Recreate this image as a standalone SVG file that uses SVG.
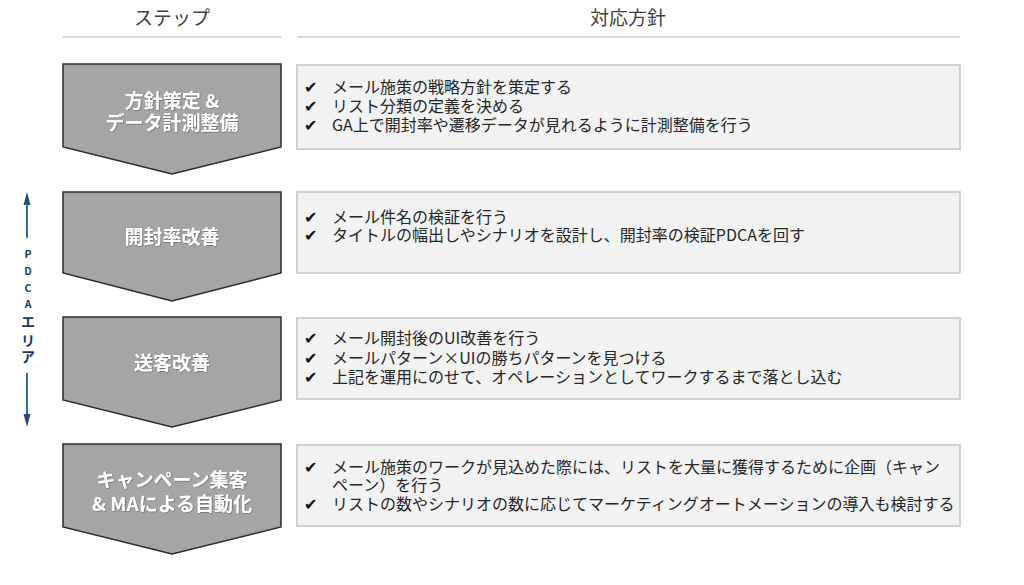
<svg xmlns="http://www.w3.org/2000/svg" width="1024" height="585" viewBox="0 0 1024 585">
  <style>
    .hdr { font-family: "Noto Sans CJK JP", "Noto Sans", sans-serif; font-size: 19px; fill: #404040; text-anchor: middle; }
    .hline { stroke: #d9d9d9; stroke-width: 2; fill: none; }
    .chev { fill: #a5a5a5; stroke: #2b2b2b; stroke-width: 1.5; stroke-linejoin: miter; }
    .ctext { font-family: "Noto Sans CJK JP", "Noto Sans", sans-serif; font-size: 19px; font-weight: bold; fill: #ffffff; text-anchor: middle; }
    .box { fill: #f2f2f2; stroke: #d0d0d0; stroke-width: 2; }
    .btext { font-family: "Noto Sans CJK JP", "Noto Sans", sans-serif; font-size: 16px; fill: #262626; }
    .chk { font-family: "DejaVu Sans", sans-serif; font-size: 16px; fill: #111111; }
    .pdca { font-family: "Noto Sans CJK JP", "Liberation Sans", sans-serif; font-weight: bold; fill: #1f3864; text-anchor: middle; }
    .aline { stroke: #3a6a9a; stroke-width: 2; }
    .ahead { fill: #1f4e79; }
  </style>
  <defs>
    <filter id="sh" x="-10%" y="-10%" width="120%" height="130%">
      <feDropShadow dx="0.6" dy="0.6" stdDeviation="0.5" flood-color="#333333" flood-opacity="0.6"/>
    </filter>
  </defs>
  <rect width="1024" height="585" fill="#ffffff"/>

  <g id="header">
    <text class="hdr" x="172" y="25">ステップ</text>
    <text class="hdr" x="628" y="25">対応方針</text>
    <line class="hline" x1="63" y1="37" x2="281" y2="37"/>
    <line class="hline" x1="297" y1="37" x2="960" y2="37"/>
  </g>

  <g id="pdca-area">
    <polygon class="ahead" points="27,192 30.5,205 23.5,205"/>
    <line class="aline" x1="27" y1="204" x2="27" y2="238"/>
    <text class="pdca" x="28" y="258" font-size="10.5">P</text>
    <text class="pdca" x="28" y="275" font-size="10.5">D</text>
    <text class="pdca" x="28" y="292" font-size="10.5">C</text>
    <text class="pdca" x="28" y="308" font-size="10.5">A</text>
    <text class="pdca" x="28" y="327" font-size="14">エ</text>
    <text class="pdca" x="28" y="346" font-size="14">リ</text>
    <text class="pdca" x="28" y="362" font-size="14">ア</text>
    <line class="aline" x1="27" y1="373" x2="27" y2="415"/>
    <polygon class="ahead" points="27,427 30.5,414 23.5,414"/>
  </g>

  <g id="step1">
    <polygon class="chev" points="63,64 281,64 281,147 172,174 63,147"/>
    <text class="ctext" x="172" y="107.5" filter="url(#sh)">方針策定 &amp;</text>
    <text class="ctext" x="172" y="129.5" filter="url(#sh)">データ計測整備</text>
  </g>
  <g id="policy1">
    <rect class="box" x="297" y="65" width="663" height="84"/>
    <text class="chk" x="304" y="93">✔</text>
    <text class="btext" x="332" y="93">メール施策の戦略方針を策定する</text>
    <text class="chk" x="304" y="112">✔</text>
    <text class="btext" x="332" y="112">リスト分類の定義を決める</text>
    <text class="chk" x="304" y="131">✔</text>
    <text class="btext" x="332" y="131">GA上で開封率や遷移データが見れるように計測整備を行う</text>
  </g>

  <g id="step2">
    <polygon class="chev" points="63,192 281,192 281,273 172,301 63,273"/>
    <text class="ctext" x="172" y="244" filter="url(#sh)">開封率改善</text>
  </g>
  <g id="policy2">
    <rect class="box" x="297" y="192" width="663" height="81"/>
    <text class="chk" x="304" y="223">✔</text>
    <text class="btext" x="332" y="223">メール件名の検証を行う</text>
    <text class="chk" x="304" y="241">✔</text>
    <text class="btext" x="332" y="241">タイトルの幅出しやシナリオを設計し、開封率の検証PDCAを回す</text>
  </g>

  <g id="step3">
    <polygon class="chev" points="63,317 281,317 281,400 172,427 63,400"/>
    <text class="ctext" x="172" y="370" filter="url(#sh)">送客改善</text>
  </g>
  <g id="policy3">
    <rect class="box" x="297" y="318" width="663" height="81"/>
    <text class="chk" x="304" y="344">✔</text>
    <text class="btext" x="332" y="344">メール開封後のUI改善を行う</text>
    <text class="chk" x="304" y="364">✔</text>
    <text class="btext" x="332" y="364">メールパターン×UIの勝ちパターンを見つける</text>
    <text class="chk" x="304" y="383">✔</text>
    <text class="btext" x="332" y="383">上記を運用にのせて、オペレーションとしてワークするまで落とし込む</text>
  </g>

  <g id="step4">
    <polygon class="chev" points="63,444 281,444 281,527 172,554 63,527"/>
    <text class="ctext" x="172" y="487" filter="url(#sh)">キャンペーン集客</text>
    <text class="ctext" x="172" y="511" filter="url(#sh)">&amp; MAによる自動化</text>
  </g>
  <g id="policy4">
    <rect class="box" x="297" y="445" width="663" height="81"/>
    <text class="chk" x="304" y="473">✔</text>
    <text class="btext" x="332" y="473">メール施策のワークが見込めた際には、リストを大量に獲得するために企画（キャン</text>
    <text class="btext" x="332" y="491">ペーン）を行う</text>
    <text class="chk" x="304" y="510">✔</text>
    <text class="btext" x="332" y="510">リストの数やシナリオの数に応じてマーケティングオートメーションの導入も検討する</text>
  </g>
</svg>
